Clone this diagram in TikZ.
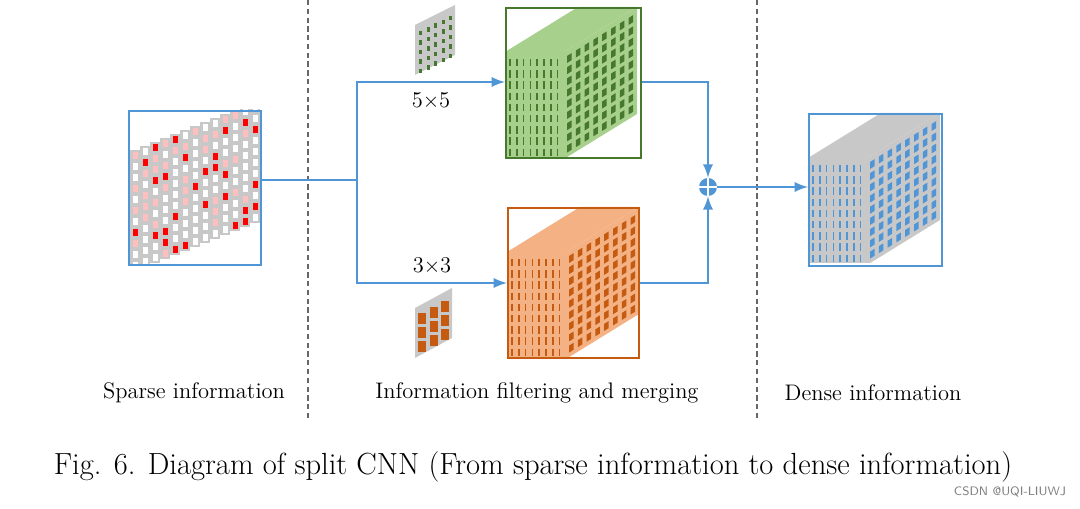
\documentclass[tikz,border=0pt]{standalone}
\usepackage{tikz}
\usetikzlibrary{positioning}
\definecolor{lineblue}{RGB}{80,150,215}
\definecolor{greenface}{RGB}{168,208,141}
\definecolor{greendark}{RGB}{70,120,45}
\definecolor{orangeface}{RGB}{244,177,131}
\definecolor{orangedark}{RGB}{197,90,17}
\definecolor{graygrid}{RGB}{200,200,200}
\tikzset{
  box/.style={draw, line width=1.2pt, minimum width=#1, inner sep=0pt, anchor=north west},
  flow/.style={draw=lineblue, line width=1.6pt, -latex},
  sep/.style={densely dashed, draw=gray!80!black, line width=1.5pt},
  lbl/.style={font=\fontsize{12.8}{15}\selectfont}
}
% feature cube inside a box whose top-left corner is (#1,#2)
\newcommand\featcube[4]{%
  \begin{scope}
  \clip (#1,#2) rectangle ++(133,150);
  \fill[#3] (#1,#2+45) -- (#1+73,#2) -- (#1+132,#2) -- (#1+59,#2+45) -- cycle;
  \fill[#3] (#1,#2+45) rectangle (#1+59,#2+152);
  \fill[#3] (#1+59,#2+45) -- (#1+132,#2) -- (#1+132,#2+107) -- (#1+59,#2+152) -- cycle;
  \foreach \i in {0,...,7}
    \foreach \j in {0,...,8}
      \draw[#4, line width=0.9pt] (#1+5+\i*6.8,#2+52+\j*11.2) -- ++(0,7.5);
  \foreach \u in {0,...,7}
    \foreach \v in {0,...,8}
      \fill[#4] (#1+62+\u*8.8,#2+49+\v*11.2-\u*5.43) -- ++(4.5,-2.8) -- ++(0,7) -- ++(-4.5,2.8) -- cycle;
  \end{scope}
}
\begin{document}
\begin{tikzpicture}[x=0.02cm, y=-0.02cm]
  \useasboundingbox (0,0) rectangle (1080,509);
  % separators
  \draw[sep] (308,0) -- (308,420);
  \draw[sep] (757,0) -- (757,420);
  % sparse input
  \pgfmathsetseed{7}
  \begin{scope}
    \clip (128,110) rectangle (260,264);
    \foreach \o in {0,40,80}
    \foreach \i in {0,...,4}
      \foreach \j in {0,...,10} {
        \pgfmathrandominteger{\r}{0}{11}
        \ifnum\r<2 \def\cc{red}\else\ifnum\r<4 \def\cc{red!25}\else\def\cc{white}\fi\fi
        \fill[graygrid] (130+\o+\i*10,150+\j*11-\i*4-\o*0.4) rectangle ++(10,11);
        \fill[\cc] (133+\o+\i*10,152+\j*11-\i*4-\o*0.4) rectangle ++(5,7.5);
      }
  \end{scope}
  \node[box=2.64cm, minimum height=3.08cm, draw=lineblue] (sparse) at (128,110) {};
  % green branch
  \featcube{505}{7}{greenface}{greendark}
  \node[box=2.7cm, minimum height=3.0cm, draw=greendark] (big) at (505,7) {};
  \fill[graygrid] (415,25) -- (455,5) -- (455,55) -- (415,75) -- cycle;
  \foreach \i in {0,...,4}
    \foreach \j in {0,...,4}
      \fill[greendark] (419+\i*7.5,31+\j*9.5-\i*3.75) rectangle ++(3,4.5);
  % orange branch
  \featcube{507}{207}{orangeface}{orangedark}
  \node[box=2.62cm, minimum height=3.0cm, draw=orangedark] (small) at (507,207) {};
  \fill[graygrid] (415,308) -- (452,288) -- (452,338) -- (415,358) -- cycle;
  \foreach \i in {0,...,2}
    \foreach \j in {0,...,2}
      \fill[orangedark] (418+\i*11.5,313+\j*14-\i*6) rectangle ++(8,11);
  % dense output
  \featcube{808}{113}{graygrid}{lineblue}
  \node[box=2.66cm, minimum height=3.04cm, draw=lineblue] (dense) at (808,113) {};
  % merge
  \node[circle, fill=lineblue, minimum size=0.36cm, inner sep=0pt] (plus) at (708,187) {};
  \draw[white, line width=1.2pt] (plus.north) -- (plus.south) (plus.west) -- (plus.east);
  \coordinate (fork) at (357,180);
  \draw[draw=lineblue, line width=1.6pt] (sparse.east |- fork) -- (fork);
  \draw[flow] (fork) |- (big.west |- 0,82) node[pos=0.75, below=2pt, black, lbl] {5$\times$5};
  \draw[flow] (fork) |- (small.west |- 0,283) node[pos=0.75, above=1pt, black, lbl] {3$\times$3};
  \draw[flow] (big.east |- 0,82) -| (plus.north);
  \draw[flow] (small.east |- 0,283) -| (plus.south);
  \draw[flow] (plus.east) -- (dense.west |- plus);
  % labels
  \node[lbl] (l1) at (194,393) {Sparse information};
  \node[lbl] (l2) at (537,393) {Information filtering and merging};
  \node[lbl] (l3) at (873,393) {Dense information};
  \node[font=\fontsize{17.4}{20}\selectfont] (cap) at (533,467) {Fig. 6. Diagram of split CNN (From sparse information to dense information)};
  \node[font=\sffamily\fontsize{7}{8}\selectfont, text=gray] (wm) at (1010,492) {CSDN @UQI-LIUWJ};
\end{tikzpicture}
\end{document}
